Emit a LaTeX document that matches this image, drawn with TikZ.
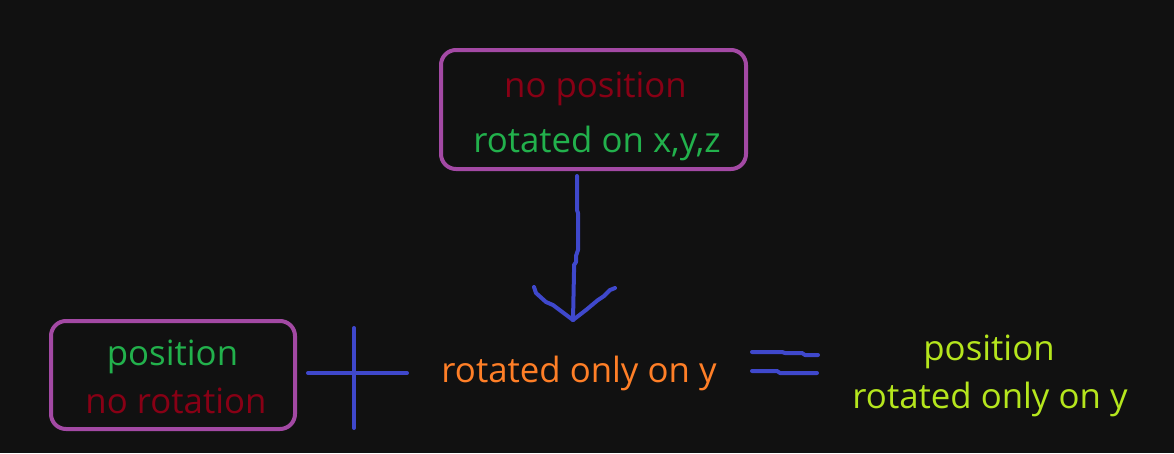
\documentclass[tikz,border=0pt]{standalone}
\usepackage{fontspec}
\setmainfont{Open Sans}
\definecolor{bgc}{HTML}{111111}
\definecolor{boxpurple}{HTML}{A349A4}
\definecolor{dred}{HTML}{880015}
\definecolor{pgreen}{HTML}{22B14C}
\definecolor{pblue}{HTML}{3F48CC}
\definecolor{porange}{HTML}{FF7F27}
\definecolor{plime}{HTML}{B5E61D}
\tikzset{
  framebox/.style={draw=boxpurple, line width=4pt, rounded corners=15pt, inner sep=0pt},
  lbl/.style={anchor=base, inner sep=0pt, font=\fontsize{34.8}{40}\selectfont},
  pen/.style={draw=pblue, line width=4pt, line cap=round, line join=round}
}
\begin{document}
\begin{tikzpicture}[x=1pt,y=-1pt]
\fill[bgc] (0,0) rectangle (1174,453);
\useasboundingbox (0,0) rectangle (1174,453);
% top box
\node[framebox, minimum width=305pt, minimum height=119pt] (top) at (593.5,109.5) {};
\node[lbl, text=dred] (t1) at (595.5,97) {no position};
\node[lbl, text=pgreen] (t2) at (597,152) {rotated on x,y,z};
% bottom-left box
\node[framebox, minimum width=244pt, minimum height=108pt] (left) at (173,375) {};
\node[lbl, text=pgreen] (l1) at (172.5,365) {position};
\node[lbl, text=dred] (l2) at (176,413) {no rotation};
% middle text
\node[lbl, text=porange] (mid) at (579,382) {rotated only on y};
% result
\node[lbl, text=plime] (r1) at (989,360) {position};
\node[lbl, text=plime] (r2) at (990,408) {rotated only on y};
% arrow
\coordinate (as) at (577,176);
\coordinate (tip) at (573,320);
\coordinate (al) at (534,287);
\coordinate (ar) at (615,288);
\draw[pen] (as) -- (577,210) -- (578,213) -- (578,250) -- (576,256) -- (576,262) -- (574,265) -- (574,272) -- (tip);
\draw[pen] (al) -- (536,293) -- (546,302) -- (553,305) -- (561,311) -- (tip);
\draw[pen] (ar) -- (610,290) -- (604,296) -- (598,300) -- (586,310) -- (tip);
% plus
\coordinate (ph1) at (308,373);
\coordinate (ph2) at (407,373);
\coordinate (pv1) at (354,328);
\coordinate (pv2) at (354,428);
\draw[pen] (ph1) -- (ph2);
\draw[pen] (pv1) -- (pv2);
% equals
\coordinate (e1a) at (752,352);
\coordinate (e1b) at (818,355);
\coordinate (e2a) at (752,371);
\coordinate (e2b) at (817,373);
\draw[pen] (e1a) -- (782,352) -- (785,353) -- (802,353) -- (805,355) -- (e1b);
\draw[pen] (e2a) -- (777,371) -- (780,373) -- (e2b);
\end{tikzpicture}
\end{document}
